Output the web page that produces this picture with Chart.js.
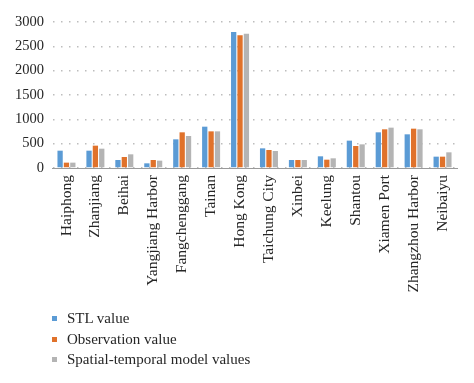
<!DOCTYPE html>
<html>
<head>
<meta charset="utf-8">
<script src="https://cdn.jsdelivr.net/npm/chart.js@4/dist/chart.umd.min.js"></script>
<style>
html,body{margin:0;padding:0;background:#fff;}
#wrap{position:relative;width:474px;height:383px;}
#legend{position:absolute;left:52px;top:308px;font-family:"Liberation Serif","Times New Roman",serif;font-size:15px;color:#262626;}
#legend div{height:20.5px;line-height:20.5px;white-space:nowrap;}
#legend span.m{display:inline-block;width:5px;height:5px;margin-right:10px;vertical-align:middle;position:relative;top:-1px;}
</style>
</head>
<body>
<div id="wrap">
<canvas id="c" width="474" height="383"></canvas>
<div id="legend"></div>
</div>
<script>
const categories = ["Haiphong","Zhanjiang","Beihai","Yangjiang Harbor","Fangchenggang","Tainan","Hong Kong","Taichung City","Xinbei","Keelung","Shantou","Xiamen Port","Zhangzhou Harbor","Neibaiyu"];
const stlValues = [356,356,164,96,589,849,2795,404,164,240,562,733,692,233];
const observationValues = [110,459,226,164,733,753,2726,370,164,171,452,795,808,233];
const spatialTemporalValues = [110,397,281,151,658,753,2760,349,164,199,486,829,795,322];
const seriesNames = ["STL value","Observation value","Spatial-temporal model values"];
const seriesColors = ["#5B9BD5","#E0722B","#B4B4B4"];
const yTickStep = 500;
const yMax = 3000;

const seriesData = [stlValues, observationValues, spatialTemporalValues];
const serif = "Liberation Serif";

new Chart(document.getElementById('c'), {
  type: 'bar',
  data: {
    labels: categories,
    datasets: seriesData.map((d,i)=>({
      label: seriesNames[i],
      data: d,
      backgroundColor: seriesColors[i],
      borderWidth: 0,
      categoryPercentage: 0.66,
      barPercentage: 0.83
    }))
  },
  options: {
    responsive: false,
    animation: false,
    layout: {padding: {top: 22, right: 17, left: 0, bottom: 0}},
    plugins: {legend: {display: false}, tooltip: {enabled: false}},
    scales: {
      x: {
        grid: {display: false, drawTicks: false},
        border: {display: true, color: '#9a9a9a', width: 1},
        ticks: {
          minRotation: 90, maxRotation: 90, autoSkip: false, padding: 7,
          color: '#262626', font: {family: serif, size: 15.5}
        },
        afterFit: s => { s.height = 383 - 168; }
      },
      y: {
        min: 0, max: yMax,
        grid: {color: '#bdbdbd', lineWidth: 1.5, drawTicks: false},
        border: {display: true, color: 'rgba(0,0,0,0)', dash: [1.5, 6.5]},
        ticks: {stepSize: yTickStep, padding: 8, color: '#262626', font: {family: serif, size: 14.5},
          callback: v => String(v)},
        afterFit: s => { s.width = 52; }
      }
    }
  }
});

const lg = document.getElementById('legend');
seriesNames.forEach((n,i)=>{
  const d = document.createElement('div');
  const m = document.createElement('span');
  m.className = 'm';
  m.style.background = seriesColors[i];
  d.appendChild(m);
  d.appendChild(document.createTextNode(n));
  lg.appendChild(d);
});
</script>
</body>
</html>
